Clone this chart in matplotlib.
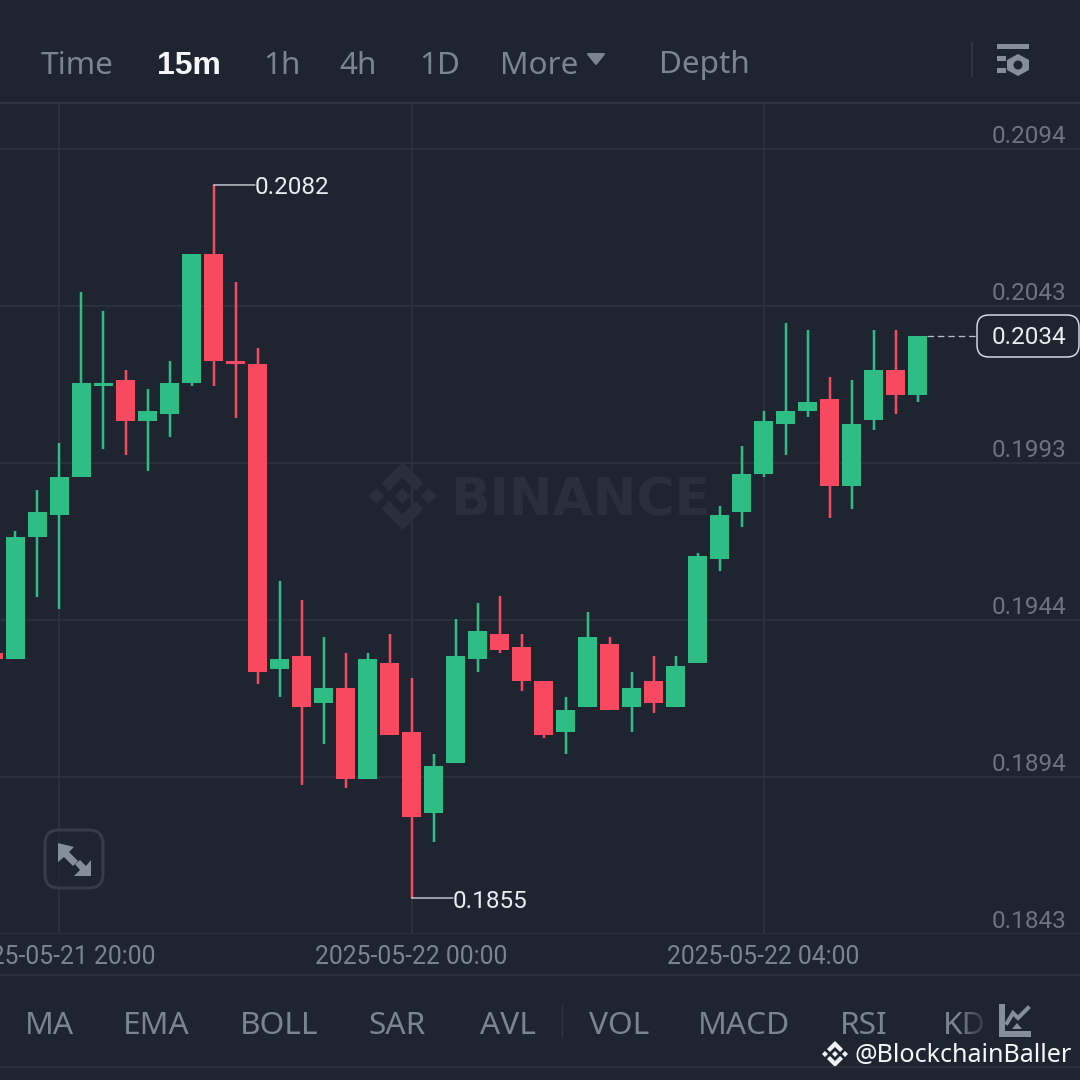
import numpy as np
import matplotlib
matplotlib.use('Agg')
import matplotlib.pyplot as plt
from matplotlib.patches import FancyBboxPatch, Polygon, Rectangle, Circle

# 15m candles, first one is cut by the left edge
open_p = [.19328, .19308, .19699, .19770, .19891, .20182, .20201, .20071, .20092, .20193, .20604,
          .20262, .20253, .19278, .19318, .19168, .19217, .18927, .19297, .19076, .18816, .18977,
          .19308, .19388, .19348, .19238, .19077, .19157, .19358, .19157, .19238, .19157, .19297,
          .19630, .19780, .19902, .20062, .20102, .20142, .19861, .20073, .20232, .20152]
high_p = [.19328, .19719, .19850, .20001, .20483, .20423, .20233, .20172, .20262, .20604, .20825,
          .20514, .20303, .19559, .19498, .19379, .19328, .19328, .19388, .19248, .19006, .19438,
          .19488, .19510, .19388, .19238, .19188, .19459, .19379, .19268, .19318, .19318, .19649,
          .19799, .19990, .20101, .20383, .20362, .20211, .20201, .20362, .20362, .20342]
low_p = [.19308, .19308, .19508, .19469, .19891, .19982, .19962, .19911, .20020, .20182, .20182,
         .20081, .19228, .19188, .18906, .19038, .18896, .18927, .19067, .18545, .18725, .18977,
         .19268, .19328, .19208, .19057, .19006, .19157, .19147, .19077, .19138, .19157, .19297,
         .19590, .19730, .19891, .19962, .20082, .19760, .19790, .20042, .20092, .20132]
close_p = [.19308, .19699, .19779, .19890, .20193, .20192, .20071, .20101, .20192, .20604, .20262,
           .20253, .19269, .19308, .19157, .19218, .18926, .19308, .19067, .18805, .18966, .19318,
           .19399, .19338, .19238, .19066, .19147, .19379, .19147, .19218, .19168, .19288, .19639,
           .19770, .19901, .20071, .20101, .20131, .19861, .20061, .20232, .20152, .20342]

price_ticks = [.2094, .20438, .19936, .19434, .18932, .1843]
price_labels = ['0.2094', '0.2043', '0.1993', '0.1944', '0.1894', '0.1843']
time_ticks = [3, 19, 35]
time_labels = ['2025-05-21 20:00', '2025-05-22 00:00', '2025-05-22 04:00']
high_label = '0.2082'
low_label = '0.1855'
last_label = '0.2034'

top_tabs = ['Time', '15m', '1h', '4h', '1D', 'More', 'Depth']
top_tab_x = [41, 157, 263, 339, 419, 500, 659]
bottom_tabs = ['MA', 'EMA', 'BOLL', 'SAR', 'AVL', 'VOL', 'MACD', 'RSI', 'KD']
bottom_tab_x = [25, 123, 240, 368, 480, 589, 698, 840, 943]

BG = '#1F2530'
GRID = '#2E3440'
GREEN = '#2EBD85'
RED = '#F84960'
GREY = '#7C8491'
AXIS_GREY = '#6D7480'
WHITE = '#EAECEF'
PX = 0.72  # one pixel in points at dpi 100

fig = plt.figure(figsize=(10.8, 10.8), dpi=100, facecolor=BG)

# main chart, spans y pixels 103 to 934
ax = fig.add_axes([0, (1080 - 934) / 1080, 1, (934 - 103) / 1080], zorder=1)
ax.set_facecolor(BG)
ax.set_xlim(0.2955, 49.386)
ax.set_ylim(.184299, .210871)
for s in ax.spines.values():
    s.set_visible(False)
ax.set_xticks(time_ticks)
ax.set_xticklabels(time_labels, fontsize=17.8, color=GREY, family='Roboto')
ax.set_yticks(price_ticks)
ax.set_yticklabels([])
ax.tick_params(length=0)
ax.tick_params(axis='x', pad=8)
ax.grid(True, color=GRID, lw=1.5 * PX)
ax.set_axisbelow(True)

x = np.arange(len(open_p))
o = np.array(open_p)
h = np.array(high_p)
l = np.array(low_p)
c = np.array(close_p)
colors = [GREEN if c[i] >= o[i] else RED for i in x]

ax.vlines(x, l, h, colors=colors, lw=2.5 * PX, zorder=3)
ax.bar(x, np.abs(c - o), bottom=np.minimum(o, c), width=19.4 / 22, color=colors, lw=0, zorder=4)

for val, lab in zip(price_ticks, price_labels):
    ax.annotate(lab, xy=(1, val), xycoords=('axes fraction', 'data'), xytext=(-14 * PX, 1 * PX),
                textcoords='offset points', ha='right', va='bottom', fontsize=17.5, color=AXIS_GREY,
                family='Roboto', annotation_clip=False)

# highest / lowest markers
top_i = int(np.argmax(h))
low_i = int(np.argmin(l))
for i, val, lab in [(top_i, h[top_i], high_label), (low_i, l[low_i], low_label)]:
    ax.annotate(lab, xy=(i, val), xytext=(41.5 * PX, -3 * PX), textcoords='offset points', va='center',
                ha='left', fontsize=17.5, color=WHITE, family='Roboto', zorder=6)
    ax.annotate('', xy=(i, val), xytext=(41.5 * PX, 0), textcoords='offset points',
                arrowprops=dict(arrowstyle='-', color=WHITE, lw=1.2 * PX, shrinkA=0, shrinkB=0))

# last price dashed line
ax.plot([x[-1] + 0.44, x[-1] + 2.75], [c[-1], c[-1]], color='#B7BDC6', lw=1.3 * PX,
        ls=(0, (5, 3)), zorder=3)

# everything around the chart, in pixel coordinates
ov = fig.add_axes([0, 0, 1, 1], zorder=2)
ov.set_xlim(0, 1080)
ov.set_ylim(1080, 0)
ov.axis('off')
ov.patch.set_alpha(0)

ov.plot([0, 1080], [102.5, 102.5], color=GRID, lw=2 * PX)
ov.plot([0, 1080], [975, 975], color=GRID, lw=1.6 * PX)
ov.plot([0, 1080], [1067, 1067], color=GRID, lw=1.6 * PX)
ov.plot([972, 972], [43, 76], color=GRID, lw=2 * PX)
ov.plot([562, 562], [1005, 1037], color=GRID, lw=1.4 * PX)

for name, px in zip(top_tabs, top_tab_x):
    if name == '15m':
        ov.text(px, 62, name, fontsize=23, va='center_baseline', ha='left', family='Liberation Sans',
                color='#F5F6F7', fontweight='bold')
    else:
        ov.text(px, 62, name, fontsize=22.7, va='center_baseline', ha='left', family='Noto Sans', color=GREY)
ov.add_patch(Polygon([(588, 54), (604, 54), (596, 64)], closed=True, fc=GREY, ec=GREY,
                     lw=1.5, joinstyle='round'))

for name, px in zip(bottom_tabs, bottom_tab_x):
    ov.text(px, 1022, name, fontsize=22.8, va='center_baseline', ha='left', family='Noto Sans', color=GREY)

# KD fades out under the icon
fade = np.zeros((1, 32, 4))
fade[0, :, :3] = matplotlib.colors.to_rgb(BG)
fade[0, :, 3] = np.linspace(0, 1, 32)
ov.imshow(fade, extent=(958, 990, 1045, 1000), aspect='auto', zorder=3, interpolation='bilinear')
ov.set_xlim(0, 1080)
ov.set_ylim(1080, 0)

# settings icon
ICON = '#868E9A'
ov.add_patch(Rectangle((997, 44), 32, 5, fc=ICON, lw=0))
ov.add_patch(Rectangle((997, 56), 9, 5, fc=ICON, lw=0))
ov.add_patch(Rectangle((997, 68), 9, 5, fc=ICON, lw=0))
ov.add_patch(Polygon([(1018, 54), (1029, 60), (1029, 70), (1018, 76), (1007, 70), (1007, 60)],
                     closed=True, fc=ICON, lw=0))
ov.add_patch(Circle((1018, 65), 4.5, fc=BG, lw=0))

# expand button
ov.add_patch(FancyBboxPatch((53, 838), 42, 42, boxstyle='round,pad=8,rounding_size=14',
                            fc=(0.12, 0.145, 0.19, 0.7), ec='#363C48', lw=3 * PX))
ov.add_patch(Polygon([(58, 843), (74, 847), (69, 852), (78, 861), (73, 866), (64, 857), (58, 862)],
                     closed=True, fc=ICON, lw=0))
ov.add_patch(Polygon([(91, 876), (74, 876), (80, 870), (75, 864), (80, 860), (86, 866), (91, 860)],
                     closed=True, fc=ICON, lw=0))

# chart icon at the bottom right
ov.plot([1002, 1002, 1028], [1007, 1034, 1034], color=ICON, lw=6 * PX, solid_joinstyle='miter')
ov.plot([1007, 1013, 1018, 1028], [1023, 1013, 1018, 1008], color=ICON, lw=4 * PX, solid_joinstyle='miter')
ov.add_patch(Polygon([(1012, 1029), (1022, 1029), (1017, 1023)], closed=True, fc=ICON, lw=0))


def binance_logo(cx, cy, r, color):
    parts = [
        [(0, .235), (.235, 0), (0, -.235), (-.235, 0)],
        [(-.77, .235), (-.535, 0), (-.77, -.235), (-1, 0)],
        [(.77, .235), (1, 0), (.77, -.235), (.535, 0)],
        [(0, 1), (.62, .38), (.39, .15), (0, .54), (-.39, .15), (-.62, .38)],
        [(0, -1), (.62, -.38), (.39, -.15), (0, -.54), (-.39, -.15), (-.62, -.38)],
    ]
    for p in parts:
        ov.add_patch(Polygon([(cx + a * r, cy - b * r) for a, b in p], closed=True, fc=color, lw=0))


# watermark
WM = '#2A303B'
binance_logo(402.5, 496, 34, WM)
ov.text(450, 496, 'BINANCE', fontsize=37.5, fontweight='bold', family='DejaVu Sans', color=WM,
        va='center_baseline', ha='left')

# credit line
binance_logo(835, 1054, 13, '#F0F1F3')
ov.text(854, 1053, '@BlockchainBaller', fontsize=18.1, family='Noto Sans', color='#F5F6F7',
        va='center_baseline', ha='left')

# last price box
ov.add_patch(FancyBboxPatch((985, 323), 86, 26, boxstyle='round,pad=8,rounding_size=12',
                            fc=BG, ec='#E4E6EA', lw=1.4 * PX))
ov.text(1028.5, 337.5, last_label, fontsize=17.5, family='Roboto', color=WHITE, ha='center', va='center')

fig.savefig('out.png', dpi=100, facecolor=BG)
